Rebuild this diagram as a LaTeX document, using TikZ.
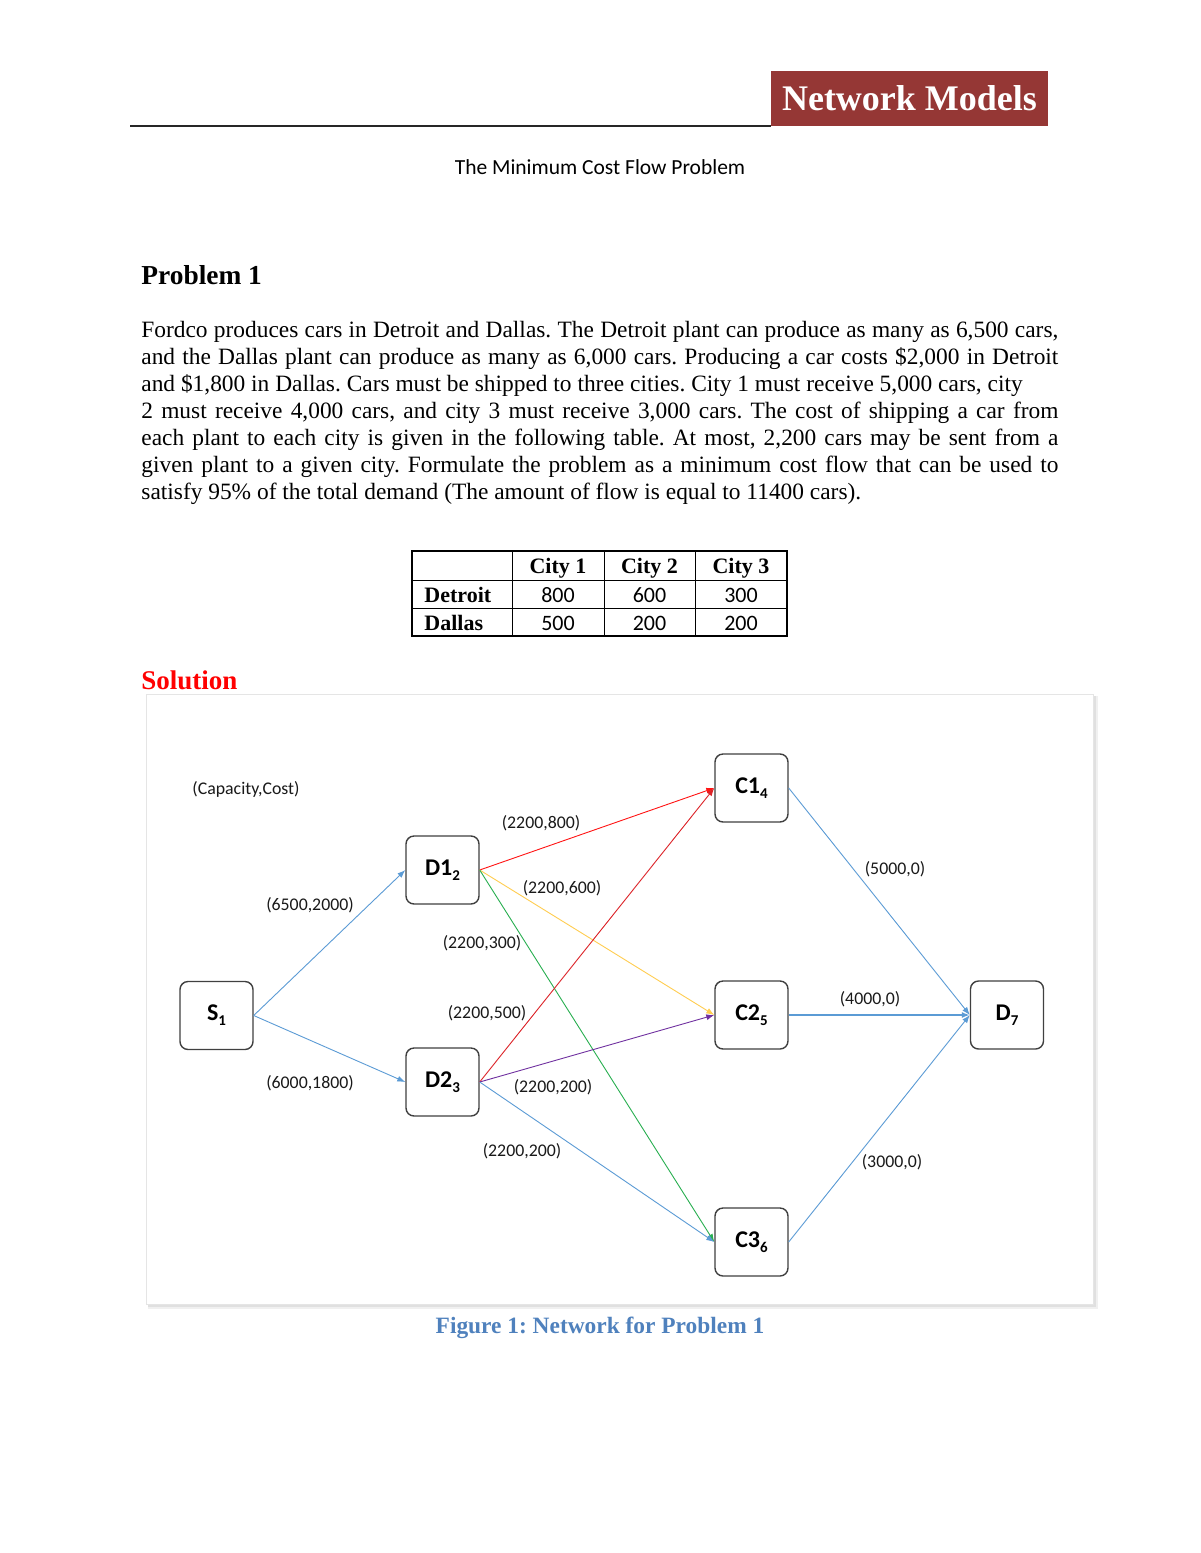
\documentclass[tikz,border=0pt]{standalone}
\usepackage{fontspec}
\setmainfont{Liberation Serif}
\newfontfamily\calibri{Carlito}
\usetikzlibrary{arrows.meta}
\definecolor{hdrred}{RGB}{149,55,53}
\definecolor{eblue}{RGB}{91,155,213}
\definecolor{ered}{RGB}{255,20,20}
\definecolor{edred}{RGB}{220,35,40}
\definecolor{eyellow}{RGB}{255,205,80}
\definecolor{egreen}{RGB}{40,175,80}
\definecolor{epurple}{RGB}{112,48,160}
\definecolor{capblue}{RGB}{79,129,189}
\definecolor{solred}{RGB}{255,0,0}
\frenchspacing
\tikzset{
  bodyline/.style={anchor=base west, inner sep=0pt, font=\fontsize{11.7}{13}\selectfont},
  netbox/.style={draw=black!75, line width=0.7pt, rounded corners=4pt, fill=white,
    minimum width=36.5pt, minimum height=34pt, inner sep=0pt,
    font=\calibri\bfseries\fontsize{12}{14}\selectfont},
  elabel/.style={inner sep=0pt, text=black!90, font=\calibri\fontsize{8.9}{10}\selectfont},
  edge/.style={line width=0.45pt, -{Latex[length=4pt,width=3pt]}},
  tcell/.style={anchor=base, inner sep=0pt},
  thead/.style={tcell, font=\bfseries\fontsize{11}{13}\selectfont},
  tnum/.style={tcell, font=\calibri\fontsize{11}{13}\selectfont},
}
\newcommand{\sub}[1]{\raisebox{-0.45ex}{\fontsize{7.5}{9}\selectfont #1}}
\begin{document}
\begin{tikzpicture}[x=0.5pt,y=-0.5pt]
\useasboundingbox[fill=white] (0,0) rectangle (1200,1553);
% header
\fill[hdrred] (771,71) rectangle (1048,126);
\node[text=white, font=\bfseries\fontsize{18}{20}\selectfont, inner sep=0pt] (hdr) at (909.5,98) {Network Models};
\draw[line width=0.8pt, black!85] (130,126) -- (771,126);
\node[font=\calibri\fontsize{10.75}{13}\selectfont, inner sep=0pt] (title) at (600,167) {The Minimum Cost Flow Problem};
% problem
\node[anchor=base west, inner sep=0pt, font=\bfseries\fontsize{13.7}{16}\selectfont] (prob) at (141,284) {Problem 1};
\node[bodyline] (l1) at (141,337) {\makebox[458.5pt][s]{Fordco produces cars in Detroit and Dallas. The Detroit plant can produce as many as 6,500 cars,}};
\node[bodyline] (l2) at (141,364) {\makebox[458.5pt][s]{and the Dallas plant can produce as many as 6,000 cars. Producing a car costs \$2,000 in Detroit}};
\node[bodyline] (l3) at (141,391) {and \$1,800 in Dallas. Cars must be shipped to three cities. City 1 must receive 5,000 cars, city};
\node[bodyline] (l4) at (141,418) {\makebox[458.5pt][s]{2 must receive 4,000 cars, and city 3 must receive 3,000 cars. The cost of shipping a car from}};
\node[bodyline] (l5) at (141,445) {\makebox[458.5pt][s]{each plant to each city is given in the following table. At most, 2,200 cars may be sent from a}};
\node[bodyline] (l6) at (141,472) {\makebox[458.5pt][s]{given plant to a given city. Formulate the problem as a minimum cost flow that can be used to}};
\node[bodyline] (l7) at (141,499) {satisfy 95\% of the total demand (The amount of flow is equal to 11400 cars).};
% table
\draw[line width=0.6pt] (412,551) rectangle (787,636);
\draw[line width=0.5pt] (512,551) -- (512,636) (604,551) -- (604,636) (695,551) -- (695,636)
  (412,580) -- (787,580) (412,608) -- (787,608);
\node[thead] (h1) at (558,573) {City 1};
\node[thead] (h2) at (649.5,573) {City 2};
\node[thead] (h3) at (741,573) {City 3};
\node[thead, anchor=base west] (r1) at (424,602) {Detroit};
\node[thead, anchor=base west] (r2) at (424,630) {Dallas};
\node[tnum] (c11) at (558,602) {800};
\node[tnum] (c12) at (649.5,602) {600};
\node[tnum] (c13) at (741,602) {300};
\node[tnum] (c21) at (558,630) {500};
\node[tnum] (c22) at (649.5,630) {200};
\node[tnum] (c23) at (741,630) {200};
% solution
\node[anchor=base west, inner sep=0pt, text=solred, font=\bfseries\fontsize{13.5}{16}\selectfont] (sol) at (141,689) {Solution};
% frame
\fill[black!6] (148,696) rectangle (1098,1309);
\fill[black!12] (148,696) rectangle (1096,1307);
\fill[white, draw=black!10, line width=0.4pt] (146,694) rectangle (1093,1304);
% nodes
\node[netbox] (S1) at (216.5,1015.5) {S\sub{1}};
\node[netbox] (D1) at (442.5,870) {D1\sub{2}};
\node[netbox] (D2) at (442.5,1082) {D2\sub{3}};
\node[netbox] (C1) at (751.5,788) {C1\sub{4}};
\node[netbox] (C2) at (751.5,1015) {C2\sub{5}};
\node[netbox] (C3) at (751.5,1242) {C3\sub{6}};
\node[netbox] (D7) at (1007,1015) {D\sub{7}};
% edges
\draw[edge, eblue] (S1.east) -- (D1.west);
\draw[edge, eblue] (S1.east) -- (D2.west);
\draw[edge, ered] (D1.east) -- (C1.west);
\draw[edge, eyellow] (D1.east) -- (C2.west);
\draw[edge, egreen] (D1.east) -- (C3.west);
\draw[edge, edred] (D2.east) -- (C1.west);
\draw[edge, epurple] (D2.east) -- (C2.west);
\draw[edge, eblue] (D2.east) -- (C3.west);
\draw[edge, eblue] (C1.east) -- (D7.west);
\draw[edge, eblue, line width=1pt] (C2.east) -- (D7.west);
\draw[edge, eblue] (C3.east) -- (D7.west);
% labels
\node[elabel] (lcc) at (246,789) {(Capacity,Cost)};
\node[elabel] (la) at (541,823) {(2200,800)};
\node[elabel] (lb) at (562,888) {(2200,600)};
\node[elabel] (lc) at (310,905) {(6500,2000)};
\node[elabel] (ld) at (482,943) {(2200,300)};
\node[elabel] (le) at (895,869) {(5000,0)};
\node[elabel] (lf) at (870,999) {(4000,0)};
\node[elabel] (lg) at (487,1013) {(2200,500)};
\node[elabel] (lh) at (310,1083) {(6000,1800)};
\node[elabel] (li) at (553,1087) {(2200,200)};
\node[elabel] (lj) at (522,1151) {(2200,200)};
\node[elabel] (lk) at (892,1162) {(3000,0)};
% caption
\node[inner sep=0pt, text=capblue, font=\bfseries\fontsize{11.7}{13}\selectfont] (cap) at (600,1328) {Figure 1: Network for Problem 1};
\end{tikzpicture}
\end{document}
